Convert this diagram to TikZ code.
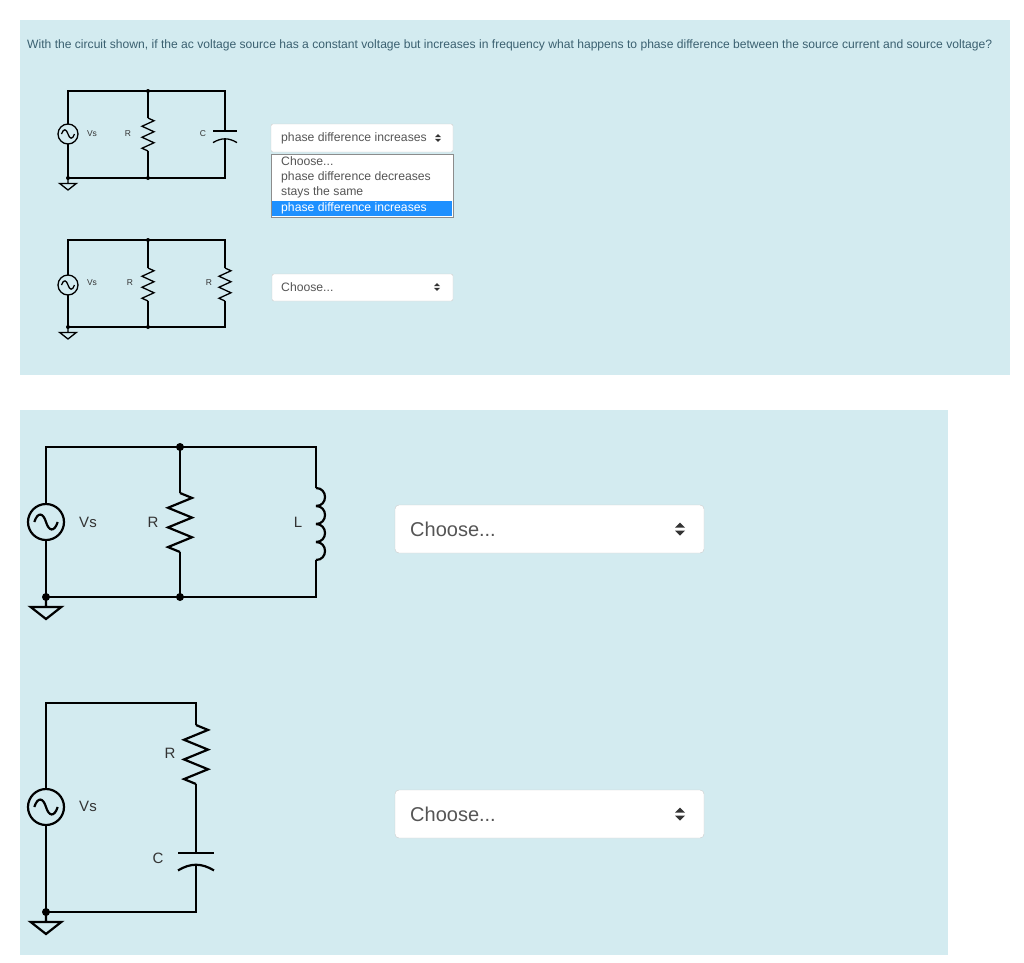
\documentclass[tikz,border=0pt]{standalone}
\usepackage{fontspec}
\setmainfont{Liberation Sans}
\definecolor{panel}{HTML}{D3EBF0}
\definecolor{qtext}{HTML}{3A6070}
\definecolor{sel}{HTML}{1E90FF}
\definecolor{txt}{HTML}{555555}
\newcommand{\zz}[4]{% x, ytop, ybot, amp
  \pgfmathsetmacro{\hh}{(#3-#2)/12}
  \draw[wire] (#1,#2) -- ++(#4,\hh) -- ++(-2*#4,2*\hh) -- ++(2*#4,2*\hh) -- ++(-2*#4,2*\hh) -- ++(2*#4,2*\hh) -- ++(-2*#4,2*\hh) -- ++(#4,\hh);}
\newcommand{\src}[3]{% x y r
  \draw[wire] (#1,#2) circle (#3);
  \draw[wire] (#1-0.65*#3,#2) .. controls (#1-0.45*#3,#2-0.6*#3) and (#1-0.15*#3,#2-0.5*#3) .. (#1,#2)
     .. controls (#1+0.15*#3,#2+0.5*#3) and (#1+0.45*#3,#2+0.6*#3) .. (#1+0.65*#3,#2);}
\newcommand{\gnd}[3]{% x y size
  \draw[wire] (#1,#2) -- (#1,#2+0.45*#3) (#1-0.7*#3,#2+0.45*#3) -- (#1+0.7*#3,#2+0.45*#3) -- (#1,#2+#3) -- cycle;}
\newcommand{\capV}[4]{% x y1 y2 halfwidth
  \draw[wire] (#1-#4,#2) -- (#1+#4,#2);
  \draw[wire] (#1-#4,#3+0.3*#4) .. controls (#1-0.3*#4,#3-0.12*#4) and (#1+0.3*#4,#3-0.12*#4) .. (#1+#4,#3+0.3*#4);}
\newcommand{\updown}[3]{% x y size
  \fill[black!80] (#1-#3,#2-0.3*#3) -- (#1+#3,#2-0.3*#3) -- (#1,#2-1.3*#3) -- cycle;
  \fill[black!80] (#1-#3,#2+0.3*#3) -- (#1+#3,#2+0.3*#3) -- (#1,#2+1.3*#3) -- cycle;}
\begin{document}
\begin{tikzpicture}[x=1pt,y=-1pt,
  wire/.style={line width=#1},wire/.default=1.6pt,
  dot/.style={circle,fill=black,inner sep=0pt,minimum size=#1},
  lbl/.style={font=\fontsize{#1}{#1}\selectfont,text=black!80,inner sep=0pt},
  selbox/.style={draw=black!20,fill=white,rounded corners=2pt},
  opt/.style={anchor=west,inner sep=0pt,font=\fontsize{12.2}{12.5}\selectfont,text=txt}]
\useasboundingbox (0,0) rectangle (1024,962);
\fill[white] (0,0) rectangle (1024,962);
\fill[panel] (20,20) rectangle (1010,375);
\fill[panel] (20,410) rectangle (948,955);
\node[anchor=west,inner sep=0pt,text=qtext,font=\fontsize{12.1}{12.5}\selectfont] (q) at (27,45)
 {With the circuit shown, if the ac voltage source has a constant voltage but increases in frequency what happens to phase difference between the source current and source voltage?};
% ---- circuit 1 (R || C)
\begin{scope}[wire/.default=1.3pt]
\draw[wire] (68,124) -- (68,91) -- (225,91) -- (225,131);
\draw[wire] (225,139) -- (225,178) -- (68,178) -- (68,144);
\draw[wire] (148,91) -- (148,118) (148,151) -- (148,178);
\zz{148}{118}{151}{6}
\src{68}{134}{10}
\capV{225}{131}{139}{12}
\gnd{68}{178}{12}
\node[dot=4pt] at (148,91) {}; \node[dot=4pt] at (148,178) {}; \node[dot=4pt] at (68,178) {};
\node[lbl=8.5] at (92,134) {Vs}; \node[lbl=8.5] at (128,134) {R}; \node[lbl=8.5] at (203,134) {C};
\end{scope}
\draw[selbox] (271,124) rectangle (453,152);
\node[opt] at (281,138) {phase difference increases};
\updown{438}{138}{3}
\draw[black!45,fill=white] (271,154) rectangle (453,217);
\fill[sel] (272,201) rectangle (452,216);
\node[opt] at (281,161) {Choose...};
\node[opt] at (281,177) {phase difference decreases};
\node[opt] at (281,192) {stays the same};
\node[opt,text=white] at (281,208) {phase difference increases};
% ---- circuit 2 (R || R)
\begin{scope}[wire/.default=1.3pt]
\draw[wire] (68,275) -- (68,240) -- (225,240) -- (225,268);
\draw[wire] (225,301) -- (225,327) -- (68,327) -- (68,295);
\draw[wire] (148,240) -- (148,268) (148,301) -- (148,327);
\zz{148}{268}{301}{6}
\zz{225}{268}{301}{6}
\src{68}{285}{10}
\gnd{68}{327}{12}
\node[dot=4pt] at (148,240) {}; \node[dot=4pt] at (148,327) {}; \node[dot=4pt] at (68,327) {};
\node[lbl=8.5] at (92,283) {Vs}; \node[lbl=8.5] at (130,283) {R}; \node[lbl=8.5] at (209,283) {R};
\end{scope}
\draw[selbox] (272,274) rectangle (453,301);
\node[opt] at (281,287) {Choose...};
\updown{437}{287}{3}
% ---- circuit 3 (R || L)
\begin{scope}[wire/.default=2.2pt]
\draw[wire] (46,504) -- (46,447) -- (316,447) -- (316,488);
\draw[wire] (316,560) -- (316,597) -- (46,597) -- (46,540);
\draw[wire] (180,447) -- (180,493) (180,552) -- (180,597);
\zz{180}{493}{552}{12}
\foreach \k in {0,1,2,3}{
  \draw[wire] (316,488+18*\k) .. controls (328,488+18*\k) and (328,506+18*\k) .. (316,506+18*\k);}
\src{46}{522}{18}
\gnd{46}{597}{22}
\node[dot=8pt] at (180,447) {}; \node[dot=8pt] at (180,597) {}; \node[dot=8pt] at (46,597) {};
\node[lbl=15] at (88,522) {Vs}; \node[lbl=15] at (153,522) {R}; \node[lbl=15] at (298,522) {L};
\end{scope}
\draw[selbox,rounded corners=4pt] (395,505) rectangle (704,553);
\node[opt,font=\fontsize{20}{20}\selectfont] at (410,529) {Choose...};
\updown{680}{529}{5}
% ---- circuit 4 (R series C)
\begin{scope}[wire/.default=2.2pt]
\draw[wire] (46,789) -- (46,703) -- (196,703) -- (196,725);
\draw[wire] (196,784) -- (196,853);
\draw[wire] (196,865) -- (196,912) -- (46,912) -- (46,825);
\zz{196}{725}{784}{12}
\capV{196}{853}{865}{18}
\src{46}{807}{18}
\gnd{46}{912}{22}
\node[dot=8pt] at (46,912) {};
\node[lbl=15] at (88,806) {Vs}; \node[lbl=15] at (170,753) {R}; \node[lbl=15] at (158,858) {C};
\end{scope}
\draw[selbox,rounded corners=4pt] (395,790) rectangle (704,838);
\node[opt,font=\fontsize{20}{20}\selectfont] at (410,814) {Choose...};
\updown{680}{814}{5}
\end{tikzpicture}
\end{document}
